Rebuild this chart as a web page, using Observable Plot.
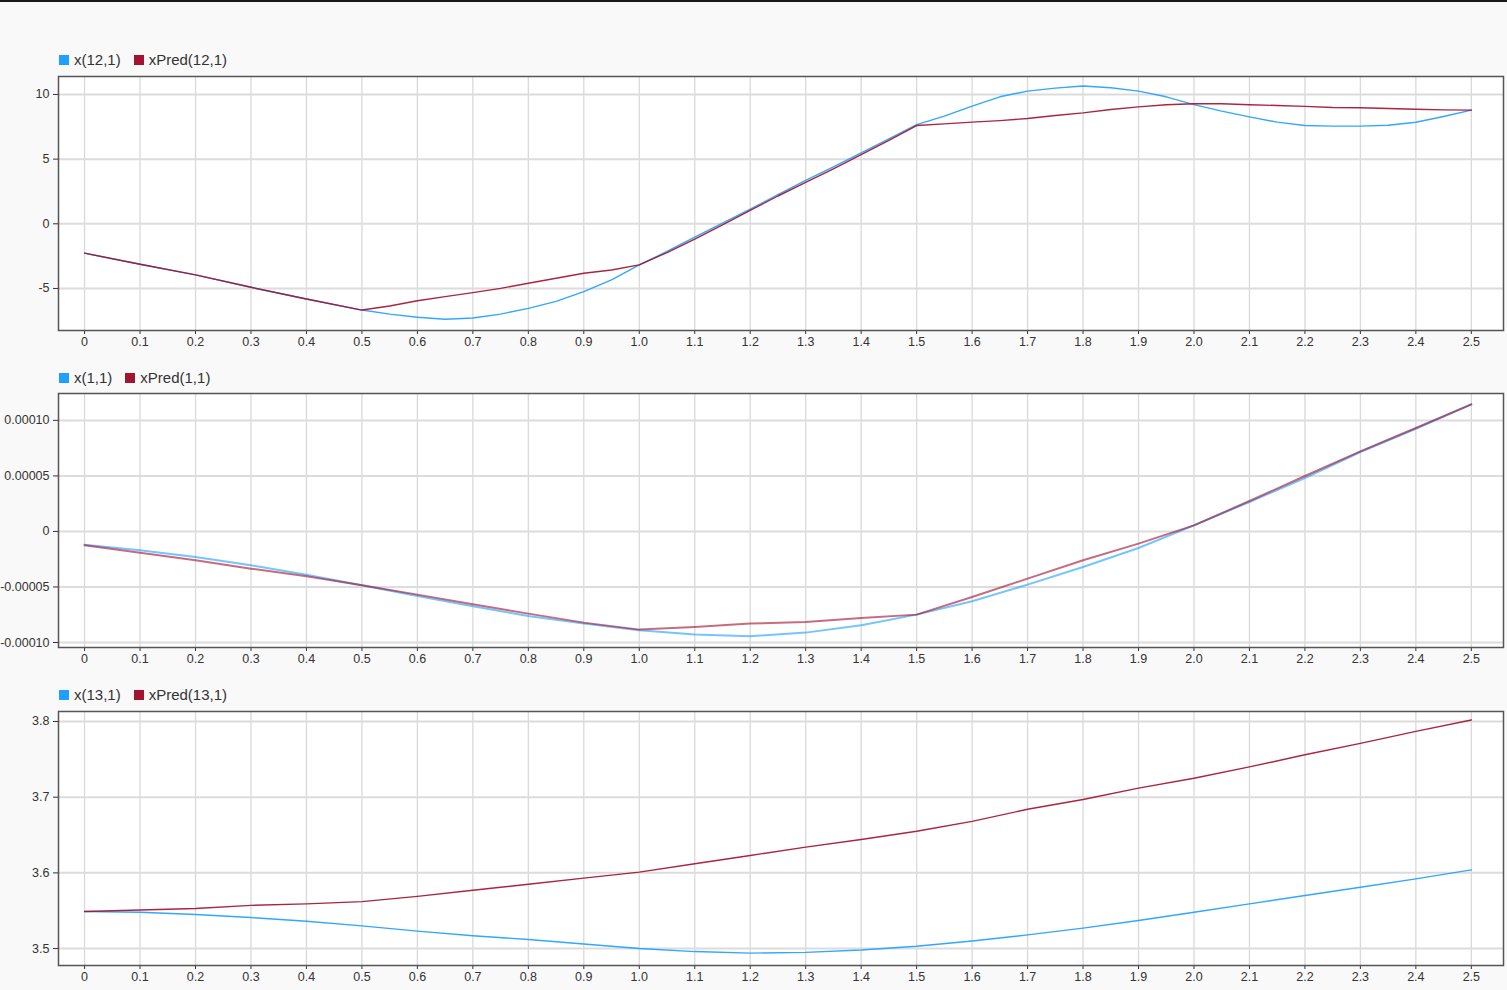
<!DOCTYPE html>
<html>
<head>
<meta charset="utf-8">
<script src="https://cdn.jsdelivr.net/npm/d3@7"></script>
<script src="https://cdn.jsdelivr.net/npm/@observablehq/plot@0.6"></script>
<style>
  html, body { margin: 0; padding: 0; background: #f9f9f9; }
  body { width: 1507px; height: 990px; position: relative; overflow: hidden;
         font-family: "Liberation Sans", Arial, sans-serif; }
  #topline { position: absolute; left: 0; top: 0; width: 1507px; height: 2px; background: #1a1a1a; }
  .legend { position: absolute; left: 59px; display: flex; align-items: center; font-size: 15px; color: #333; }
  .legend .item { display: flex; align-items: center; margin-right: 13px; }
  .legend .sw { width: 10px; height: 10px; margin-right: 5px; }
  .panel { position: absolute; left: 0; }
</style>
</head>
<body>
<div id="topline"></div>
<div id="root"></div>
<script>
// ---------- data ----------
const xTicks = [0, 0.1, 0.2, 0.3, 0.4, 0.5, 0.6, 0.7, 0.8, 0.9, 1.0, 1.1, 1.2, 1.3, 1.4, 1.5, 1.6, 1.7, 1.8, 1.9, 2.0, 2.1, 2.2, 2.3, 2.4, 2.5];

// panel 1 : x(12,1) / xPred(12,1)
const t1 = [0, 0.1, 0.2, 0.3, 0.4, 0.5, 0.55, 0.6, 0.65, 0.7, 0.75, 0.8, 0.85, 0.9, 0.95, 1.0, 1.05, 1.1, 1.15, 1.2, 1.25, 1.3, 1.35, 1.4, 1.45, 1.5, 1.55, 1.6, 1.65, 1.7, 1.75, 1.8, 1.85, 1.9, 1.95, 2.0, 2.05, 2.1, 2.15, 2.2, 2.25, 2.3, 2.35, 2.4, 2.45, 2.5];
const x12 = [-2.27, -3.13, -3.95, -4.91, -5.81, -6.67, -6.98, -7.23, -7.38, -7.28, -6.98, -6.54, -6.0, -5.25, -4.34, -3.18, -2.14, -1.03, 0.05, 1.14, 2.25, 3.35, 4.4, 5.48, 6.56, 7.67, 8.32, 9.1, 9.82, 10.26, 10.49, 10.65, 10.52, 10.26, 9.82, 9.22, 8.71, 8.27, 7.86, 7.6, 7.55, 7.55, 7.62, 7.85, 8.3, 8.79];
const xPred12 = [-2.27, -3.13, -3.95, -4.91, -5.81, -6.67, -6.36, -5.95, -5.63, -5.32, -4.99, -4.6, -4.21, -3.82, -3.57, -3.18, -2.22, -1.19, -0.08, 1.03, 2.15, 3.2, 4.25, 5.35, 6.45, 7.6, 7.73, 7.86, 7.98, 8.14, 8.37, 8.58, 8.84, 9.04, 9.2, 9.28, 9.28, 9.2, 9.15, 9.08, 8.99, 8.97, 8.91, 8.86, 8.81, 8.79];
const y1Ticks = [-5, 0, 5, 10];

// panel 2 : x(1,1) / xPred(1,1)
const t2 = [0, 0.1, 0.2, 0.3, 0.4, 0.5, 0.6, 0.7, 0.8, 0.9, 1.0, 1.1, 1.2, 1.3, 1.4, 1.5, 1.6, 1.7, 1.8, 1.9, 2.0, 2.1, 2.2, 2.3, 2.4, 2.5];
const x1 = [-1.19e-5, -1.70e-5, -2.30e-5, -3.05e-5, -3.89e-5, -4.85e-5, -5.81e-5, -6.74e-5, -7.61e-5, -8.30e-5, -8.90e-5, -9.29e-5, -9.44e-5, -9.11e-5, -8.45e-5, -7.49e-5, -6.29e-5, -4.79e-5, -3.20e-5, -1.49e-5, 0.55e-5, 2.65e-5, 4.81e-5, 7.15e-5, 9.25e-5, 11.44e-5];
const xPred1 = [-1.25e-5, -1.91e-5, -2.60e-5, -3.35e-5, -4.04e-5, -4.85e-5, -5.69e-5, -6.56e-5, -7.40e-5, -8.21e-5, -8.84e-5, -8.60e-5, -8.30e-5, -8.15e-5, -7.79e-5, -7.49e-5, -5.90e-5, -4.25e-5, -2.60e-5, -1.10e-5, 0.55e-5, 2.74e-5, 4.99e-5, 7.21e-5, 9.31e-5, 11.44e-5];
const y2Ticks = [-0.0001, -0.00005, 0, 0.00005, 0.0001];

// panel 3 : x(13,1) / xPred(13,1)
const t3 = [0, 0.1, 0.2, 0.3, 0.4, 0.5, 0.6, 0.7, 0.8, 0.9, 1.0, 1.1, 1.2, 1.3, 1.4, 1.5, 1.6, 1.7, 1.8, 1.9, 2.0, 2.1, 2.2, 2.3, 2.4, 2.5];
const x13 = [3.549, 3.548, 3.545, 3.541, 3.536, 3.530, 3.523, 3.517, 3.512, 3.506, 3.500, 3.496, 3.494, 3.495, 3.498, 3.503, 3.510, 3.518, 3.527, 3.537, 3.548, 3.559, 3.570, 3.581, 3.592, 3.604];
const xPred13 = [3.549, 3.551, 3.553, 3.557, 3.559, 3.562, 3.569, 3.577, 3.585, 3.593, 3.601, 3.612, 3.623, 3.634, 3.644, 3.655, 3.668, 3.684, 3.697, 3.712, 3.725, 3.740, 3.756, 3.771, 3.787, 3.802];
const y3Ticks = [3.5, 3.6, 3.7, 3.8];

const BLUE = "#1f9fff";
const RED = "#a2142f";

const panels = [
  {top: 70, legendTop: 51, names: ["x(12,1)", "xPred(12,1)"], t: t1, a: x12, b: xPred12,
   yDomain: [-8.25, 11.39], yTicks: y1Ticks, yFmt: d => String(d), sw: 1.4, op: 0.92},
  {top: 387, legendTop: 369, names: ["x(1,1)", "xPred(1,1)"], t: t2, a: x1, b: xPred1,
   yDomain: [-1.045e-4, 1.242e-4], yTicks: y2Ticks, yFmt: d => d === 0 ? "0" : d.toFixed(5), sw: 2, op: 0.62},
  {top: 705, legendTop: 686, names: ["x(13,1)", "xPred(13,1)"], t: t3, a: x13, b: xPred13,
   yDomain: [3.4776, 3.8132], yTicks: y3Ticks, yFmt: d => d.toFixed(1), sw: 1.4, op: 0.92}
];

const root = document.getElementById("root");
for (const p of panels) {
  const lg = document.createElement("div");
  lg.className = "legend";
  lg.style.top = p.legendTop + "px";
  lg.innerHTML = `<div class="item"><div class="sw" style="background:${BLUE}"></div><span>${p.names[0]}</span></div>` +
                 `<div class="item"><div class="sw" style="background:${RED}"></div><span>${p.names[1]}</span></div>`;
  root.appendChild(lg);

  const chart = Plot.plot({
    width: 1507,
    height: 285,
    marginTop: 6,
    marginBottom: 25,
    marginLeft: 58,
    marginRight: 4,
    style: {background: "transparent", fontFamily: "'Liberation Sans', Arial, sans-serif", fontSize: "12.5px", color: "#333"},
    x: {domain: [-0.047, 2.558], label: null},
    y: {domain: p.yDomain, label: null},
    marks: [
      Plot.frame({fill: "white", stroke: null}),
      Plot.ruleX(xTicks, {stroke: "#d9d9d9", strokeWidth: 1.3}),
      Plot.ruleY(p.yTicks, {stroke: "#dcdcdc", strokeWidth: 2}),
      Plot.line(p.a, {x: p.t, y: p.a, stroke: BLUE, strokeWidth: p.sw, strokeOpacity: p.op}),
      Plot.line(p.b, {x: p.t, y: p.b, stroke: RED, strokeWidth: p.sw, strokeOpacity: p.op}),
      Plot.axisX(xTicks, {tickSize: 4, tickPadding: 3, label: null, stroke: "#333",
                          tickFormat: d => d === 0 ? "0" : d.toFixed(1)}),
      Plot.axisY(p.yTicks, {tickSize: 5, tickPadding: 4, label: null, stroke: "#333", tickFormat: p.yFmt}),
      Plot.frame({stroke: "#555", strokeWidth: 1.5})
    ]
  });
  const wrap = document.createElement("div");
  wrap.className = "panel";
  wrap.style.top = p.top + "px";
  wrap.appendChild(chart);
  root.appendChild(wrap);
}
</script>
</body>
</html>
